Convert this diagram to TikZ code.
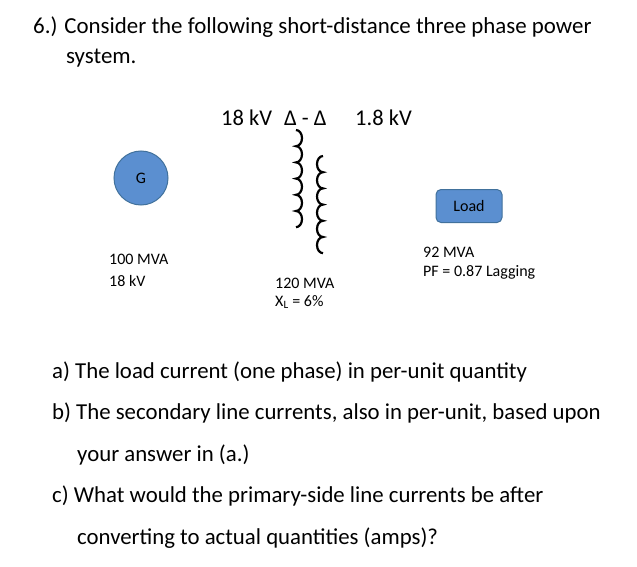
\documentclass[tikz,border=0pt]{standalone}
\usepackage{fontspec}
\setmainfont{Carlito}
\begin{document}
\begin{tikzpicture}[x=1pt,y=-1pt,
  big/.style={anchor=west,font=\fontsize{22.9}{25}\selectfont,inner sep=0},
  q/.style={anchor=west,font=\fontsize{22.8}{25}\selectfont,inner sep=0},
  small/.style={anchor=west,font=\fontsize{16}{18}\selectfont,inner sep=0},
  mid/.style={anchor=west,font=\fontsize{22.5}{25}\selectfont,inner sep=0},
  coil/.style={line width=2.2pt}]
\useasboundingbox (0,0) rectangle (637,567);
\node[big] (t1) at (33,27) {6.) Consider the following short-distance three phase power};
\node[big] (t2) at (66,58) {system.};
\node[mid] (v1) at (221,118) {18 kV};
\node[mid] (v2) at (284,118) {Δ - Δ};
\node[mid] (v3) at (355,118) {1.8 kV};
\node[circle,fill={rgb,255:red,91;green,143;blue,208},draw={rgb,255:red,65;green,113;blue,156},line width=1pt,minimum size=54pt,inner sep=0,font=\fontsize{16}{18}\selectfont] (G) at (141,178) {G};
\node[rounded corners=5pt,fill={rgb,255:red,91;green,143;blue,208},draw={rgb,255:red,65;green,113;blue,156},line width=1pt,minimum width=66pt,minimum height=33pt,font=\fontsize{16}{18}\selectfont] (L) at (469,206) {Load};
\draw[coil] (296,130) \foreach \i in {1,...,6}{ arc[start angle=-90,end angle=90,x radius=6,y radius=8.1]};
\draw[coil] (323,156) \foreach \i in {1,...,6}{ arc[start angle=-90,end angle=-270,x radius=6,y radius=8.1]};
\node[small] (g1) at (109,259) {100 MVA};
\node[small] (g2) at (109,281) {18 kV};
\node[small] (x1) at (275,283) {120 MVA};
\node[small] (x2) at (275,302) {X\textsubscript{L} = 6\%};
\node[small] (l1) at (423,252) {92 MVA};
\node[small] (l2) at (423,272) {PF = 0.87 Lagging};
\node[q] (qa) at (52,372) {a) The load current (one phase) in per-unit quantity};
\node[q] (qb) at (52,413) {b) The secondary line currents, also in per-unit, based upon};
\node[q] (qb2) at (77,455) {your answer in (a.)};
\node[q] (qc) at (52,496) {c) What would the primary-side line currents be after};
\node[q] (qc2) at (77,538) {converting to actual quantities (amps)?};
\end{tikzpicture}
\end{document}
